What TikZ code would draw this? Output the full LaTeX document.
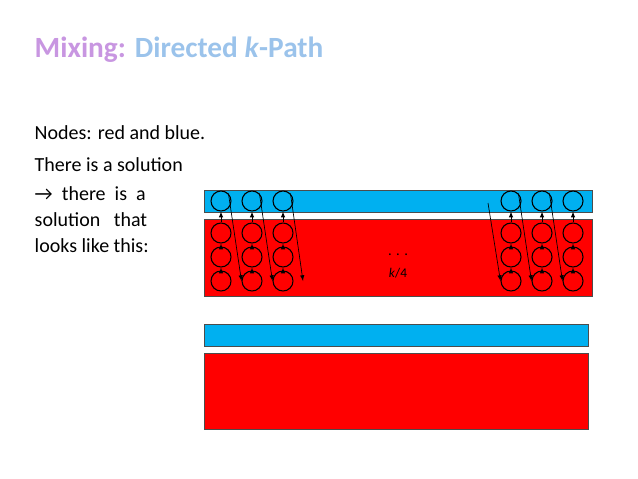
\documentclass[tikz,border=0pt]{standalone}
\usepackage{fontspec}
\setmainfont{Carlito}
\begin{document}
\begin{tikzpicture}[x=0.75pt,y=-0.75pt,
  bluebar/.style={draw=black!70,fill=cyan!80!blue!60!white,line width=0.4pt,fill={rgb,255:red,0;green,176;blue,240}},
  redbar/.style={draw=black!70,fill={rgb,255:red,255;green,0;blue,0},line width=0.4pt},
  vtx/.style={circle,draw=black,line width=0.8pt,minimum size=15pt,inner sep=0pt},
  arr/.style={-latex,line width=0.5pt},
  body/.style={anchor=west,font=\fontsize{15}{18}\selectfont}]
\useasboundingbox (0,0) rectangle (638,478);
\node[anchor=west,font=\fontsize{22}{26}\selectfont\bfseries] (title) at (30,50)
  {\textcolor[RGB]{200,150,225}{Mixing:} \textcolor[RGB]{155,195,235}{Directed \textit{k}-Path}};
\node[body] (t1) at (30,133) {Nodes: red and blue.};
\node[body] (t2) at (30,165) {There is a solution};
\node[body] (t3) at (30,194) {\symbol{"2192}\ \ there\ \ is\ \ a};
\node[body] (t4) at (30,220) {solution\ \ \ that};
\node[body] (t5) at (30,246) {looks like this:};
\path[bluebar] (204,190) rectangle (592,212);
\path[redbar] (204,219) rectangle (592,296);
\path[bluebar] (204,324) rectangle (588,346);
\path[redbar] (204,353) rectangle (588,429);
\foreach \c/\x in {a/221,b/252,c/283,d/511,e/542,f/573}{
  \foreach \r/\y in {1/201,2/233,3/257,4/281}{
    \node[vtx] (\c\r) at (\x,\y) {};
  }
  \draw[arr] (\c2) -- (\c1);
  \draw[arr] (\c3) -- (\c2);
  \draw[arr] (\c4) -- (\c3);
}
\coordinate (e0) at (303,281);
\coordinate (s0) at (488,203);
\draw[arr] (a1.north east) -- (b4.west);
\draw[arr] (b1.north east) -- (c4.west);
\draw[arr] (c1.north east) -- (e0);
\draw[arr] (s0) -- (d4.west);
\draw[arr] (d1.north east) -- (e4.west);
\draw[arr] (e1.north east) -- (f4.west);
\node[font=\fontsize{11}{13}\selectfont] (dots) at (398,255) {. . .};
\node[font=\fontsize{10}{12}\selectfont] (k4) at (398,273) {\textit{k}/4};
\end{tikzpicture}
\end{document}
